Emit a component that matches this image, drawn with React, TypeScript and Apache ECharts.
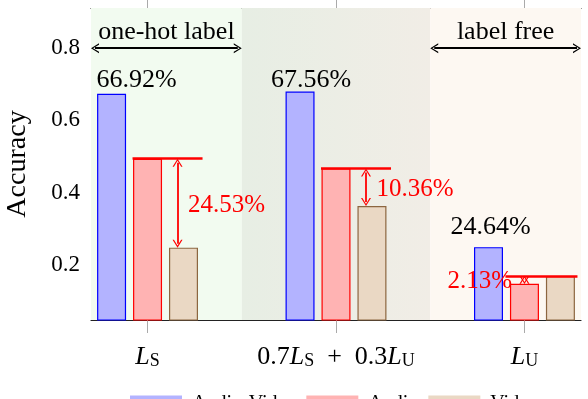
import React, { useEffect, useRef } from 'react';
import * as echarts from 'echarts';

// ---- data ----
const groupLabels = [
  '{i|L}{s|S}',
  '{n|0.7}{i|L}{s|S}{p|\u2002+\u2002}{n|0.3}{i|L}{s|U}',
  '{i|L}{s|U}',
];
const seriesNames = ['Audio-Video', 'Audio', 'Video'];
const audioVideo = [0.6692, 0.6756, 0.2464];
const audio = [0.4903, 0.4636, 0.1455];
const video = [0.245, 0.36, 0.1668];
const gaps = [24.53, 10.36, 2.13];
const regionBounds = [-0.3, 0.5, 1.5, 2.3];
const regionLabels = ['one-hot label', '', 'label free'];
const yTicks = [0.2, 0.4, 0.6, 0.8];
const groupPos = [0, 1, 2];

const FONT = "'Liberation Serif', 'Times New Roman', serif";
const X_MIN = -0.3;
const X_MAX = 2.3;
const Y_MIN = 0.0455;
const Y_MAX = 0.906;
const G_LEFT = 91, G_RIGHT = 7, G_TOP = 8, G_BOTTOM = 79;
const PLOT_W = 588 - G_LEFT - G_RIGHT;
const PLOT_H = 399 - G_TOP - G_BOTTOM;
const PXX = (X_MAX - X_MIN) / PLOT_W;
const PXY = (Y_MAX - Y_MIN) / PLOT_H;
const chevron = 'path://M0,10 L5,0 L10,10 L8.6,10 L5,2.6 L1.4,10 Z';

export default function App() {
  const ref = useRef<HTMLDivElement>(null);
  useEffect(() => {
    if (!ref.current) return;
    const chart = echarts.init(ref.current, null, { renderer: 'svg' });

    const blueOffsets = [[25, 0], [11, 2], [2, -7]];
    const arrowOffPx = [30, 30, 0];
    const lineStartPx = [-15, -15, -19];
    const lineEndPx = [55, 55, 53];
    const textSide = ['right', 'right', 'left'];

    const redLines: any[] = [];
    const redTexts: any[] = [];
    groupPos.forEach((g, i) => {
      const top = Math.max(audio[i], video[i]);
      const bot = Math.min(audio[i], video[i]);
      redLines.push([
        { coord: [g + lineStartPx[i] * PXX, top], symbol: 'none', lineStyle: { width: 2.6 } },
        { coord: [g + lineEndPx[i] * PXX, top], symbol: 'none' },
      ]);
      const ax = g + arrowOffPx[i] * PXX;
      redLines.push([
        { coord: [ax, top - 4 * PXY], symbol: chevron, lineStyle: { width: 1.8 } },
        { coord: [ax, bot + 4 * PXY], symbol: chevron },
      ]);
      redTexts.push({
        value: [ax, (top + bot) / 2],
        label: { position: textSide[i], distance: textSide[i] === 'left' ? 12 : 10 },
      });
    });

    const areas: any[] = [];
    const arrows: any[] = [];
    const colorsArea = [
      '#f2fbf0',
      new echarts.graphic.LinearGradient(0, 0, 1, 0, [
        { offset: 0, color: '#e7eee4' },
        { offset: 1, color: '#f1ede6' },
      ]),
      '#fdf8f2',
    ];
    for (let i = 0; i < 3; i++) {
      areas.push([
        { xAxis: regionBounds[i], itemStyle: { color: colorsArea[i] } },
        { xAxis: regionBounds[i + 1] },
      ]);
      if (regionLabels[i]) {
        arrows.push([
          {
            coord: [regionBounds[i] + 4 * PXX, 0.795],
            symbol: chevron,
            label: {
              show: true,
              formatter: regionLabels[i],
              position: 'insideMiddleTop',
              distance: 5,
              fontSize: 26,
              fontFamily: FONT,
              color: '#000',
            },
          },
          { coord: [regionBounds[i + 1] - 4 * PXX, 0.795], symbol: chevron },
        ]);
      }
    }

    const tickStyle = { color: '#aaaaaa', width: 1 };
    const axisLineStyle = { color: '#222', width: 1.2 };

    const option: any = {
      animation: false,
      textStyle: { fontFamily: FONT, color: '#000' },
      grid: { left: G_LEFT, right: G_RIGHT, top: G_TOP, bottom: G_BOTTOM, outerBoundsMode: 'none' },
      legend: {
        data: seriesNames,
        left: 130,
        top: 392,
        padding: 0,
        itemWidth: 52,
        itemHeight: 13,
        itemGap: 10,
        icon: 'rect',
        itemStyle: { borderWidth: 0 },
        textStyle: { fontSize: 20, fontFamily: FONT, color: '#000', padding: [0, 0, 0, 5], lineHeight: 20 },
      },
      xAxis: [
        {
          type: 'value',
          min: X_MIN,
          max: X_MAX,
          position: 'bottom',
          axisLine: { show: true, lineStyle: axisLineStyle },
          axisTick: { show: true, inside: false, length: 13, lineStyle: tickStyle, customValues: groupPos },
          splitLine: { show: false },
          axisLabel: {
            customValues: groupPos,
            margin: 21,
            formatter: (v: number) => groupLabels[Math.round(v)],
            rich: {
              i: { fontSize: 26, fontStyle: 'italic', fontFamily: FONT, color: '#000', lineHeight: 28, verticalAlign: 'middle' },
              s: { fontSize: 18, fontFamily: FONT, color: '#000', lineHeight: 18, verticalAlign: 'bottom' },
              n: { fontSize: 26, fontFamily: FONT, color: '#000', lineHeight: 28, verticalAlign: 'middle' },
              p: { fontSize: 26, fontFamily: FONT, color: '#000', lineHeight: 28, verticalAlign: 'middle' },
            },
          },
        },
        {
          type: 'value',
          min: X_MIN,
          max: X_MAX,
          position: 'top',
          axisLine: { show: true, lineStyle: axisLineStyle },
          axisTick: { show: true, inside: false, length: 10, lineStyle: tickStyle, customValues: groupPos },
          splitLine: { show: false },
          axisLabel: { show: false },
        },
      ],
      yAxis: [
        {
          type: 'value',
          min: Y_MIN,
          max: Y_MAX,
          position: 'left',
          name: 'Accuracy',
          nameLocation: 'middle',
          nameGap: 62,
          nameTextStyle: { fontSize: 28, fontFamily: FONT, color: '#000' },
          axisLine: { show: true, lineStyle: axisLineStyle },
          axisTick: { show: true, inside: true, length: 7, lineStyle: tickStyle, customValues: yTicks },
          splitLine: { show: false },
          axisLabel: {
            customValues: yTicks,
            margin: 11,
            fontSize: 23,
            fontFamily: FONT,
            color: '#000',
            formatter: (v: number) => v.toFixed(1),
          },
        },
        {
          type: 'value',
          min: Y_MIN,
          max: Y_MAX,
          position: 'right',
          axisLine: { show: true, lineStyle: axisLineStyle },
          axisTick: { show: true, inside: true, length: 9, lineStyle: tickStyle, customValues: yTicks },
          splitLine: { show: false },
          axisLabel: { show: false },
        },
      ],
      series: [
        {
          name: 'bg',
          type: 'line',
          data: [],
          z: 1,
          silent: true,
          markArea: { silent: true, data: areas },
          markLine: {
            silent: true,
            symbolSize: [10, 8],
            lineStyle: { color: '#000', width: 1.8, type: 'solid' },
            label: { show: false },
            data: arrows,
          },
        },
        {
          name: seriesNames[0],
          type: 'bar',
          barWidth: 29,
          barGap: '24%',
          z: 2,
          itemStyle: { color: '#b3b3ff', borderColor: '#0000ff', borderWidth: 1.2 },
          label: {
            show: true,
            position: 'top',
            distance: 2,
            fontSize: 26,
            fontFamily: FONT,
            color: '#000',
            formatter: (p: any) => (p.value[1] * 100).toFixed(2) + '%',
          },
          data: audioVideo.map((v, i) => ({ value: [groupPos[i], v], label: { offset: blueOffsets[i] } })),
        },
        {
          name: seriesNames[1],
          type: 'bar',
          barWidth: 29,
          barGap: '24%',
          z: 2,
          itemStyle: { color: '#ffb3b3', borderColor: '#ff0000', borderWidth: 1.2 },
          data: audio.map((v, i) => [groupPos[i], v]),
        },
        {
          name: seriesNames[2],
          type: 'bar',
          barWidth: 29,
          barGap: '24%',
          z: 2,
          itemStyle: { color: '#ead8c4', borderColor: '#8c6640', borderWidth: 1.2 },
          data: video.map((v, i) => [groupPos[i], v]),
        },
        {
          name: 'annot',
          type: 'line',
          data: [],
          z: 5,
          silent: true,
          markLine: {
            silent: true,
            symbolSize: [10, 8],
            lineStyle: { color: '#ff0000', width: 1.8, type: 'solid', opacity: 1 },
            itemStyle: { color: '#ff0000', opacity: 1 },
            label: { show: false },
            data: redLines,
          },
        },
        {
          name: 'gapText',
          type: 'scatter',
          z: 6,
          symbolSize: 1,
          silent: true,
          itemStyle: { color: 'rgba(0,0,0,0)' },
          label: {
            show: true,
            fontSize: 25,
            fontFamily: FONT,
            color: '#ff0000',
            opacity: 1,
            formatter: (p: any) => gaps[p.dataIndex].toFixed(2) + '%',
          },
          data: redTexts,
        },
      ],
    };
    chart.setOption(option);
    return () => chart.dispose();
  }, []);
  return <div ref={ref} style={{ position: 'fixed', left: 0, top: 0, width: 588, height: 399 }} />;
}
